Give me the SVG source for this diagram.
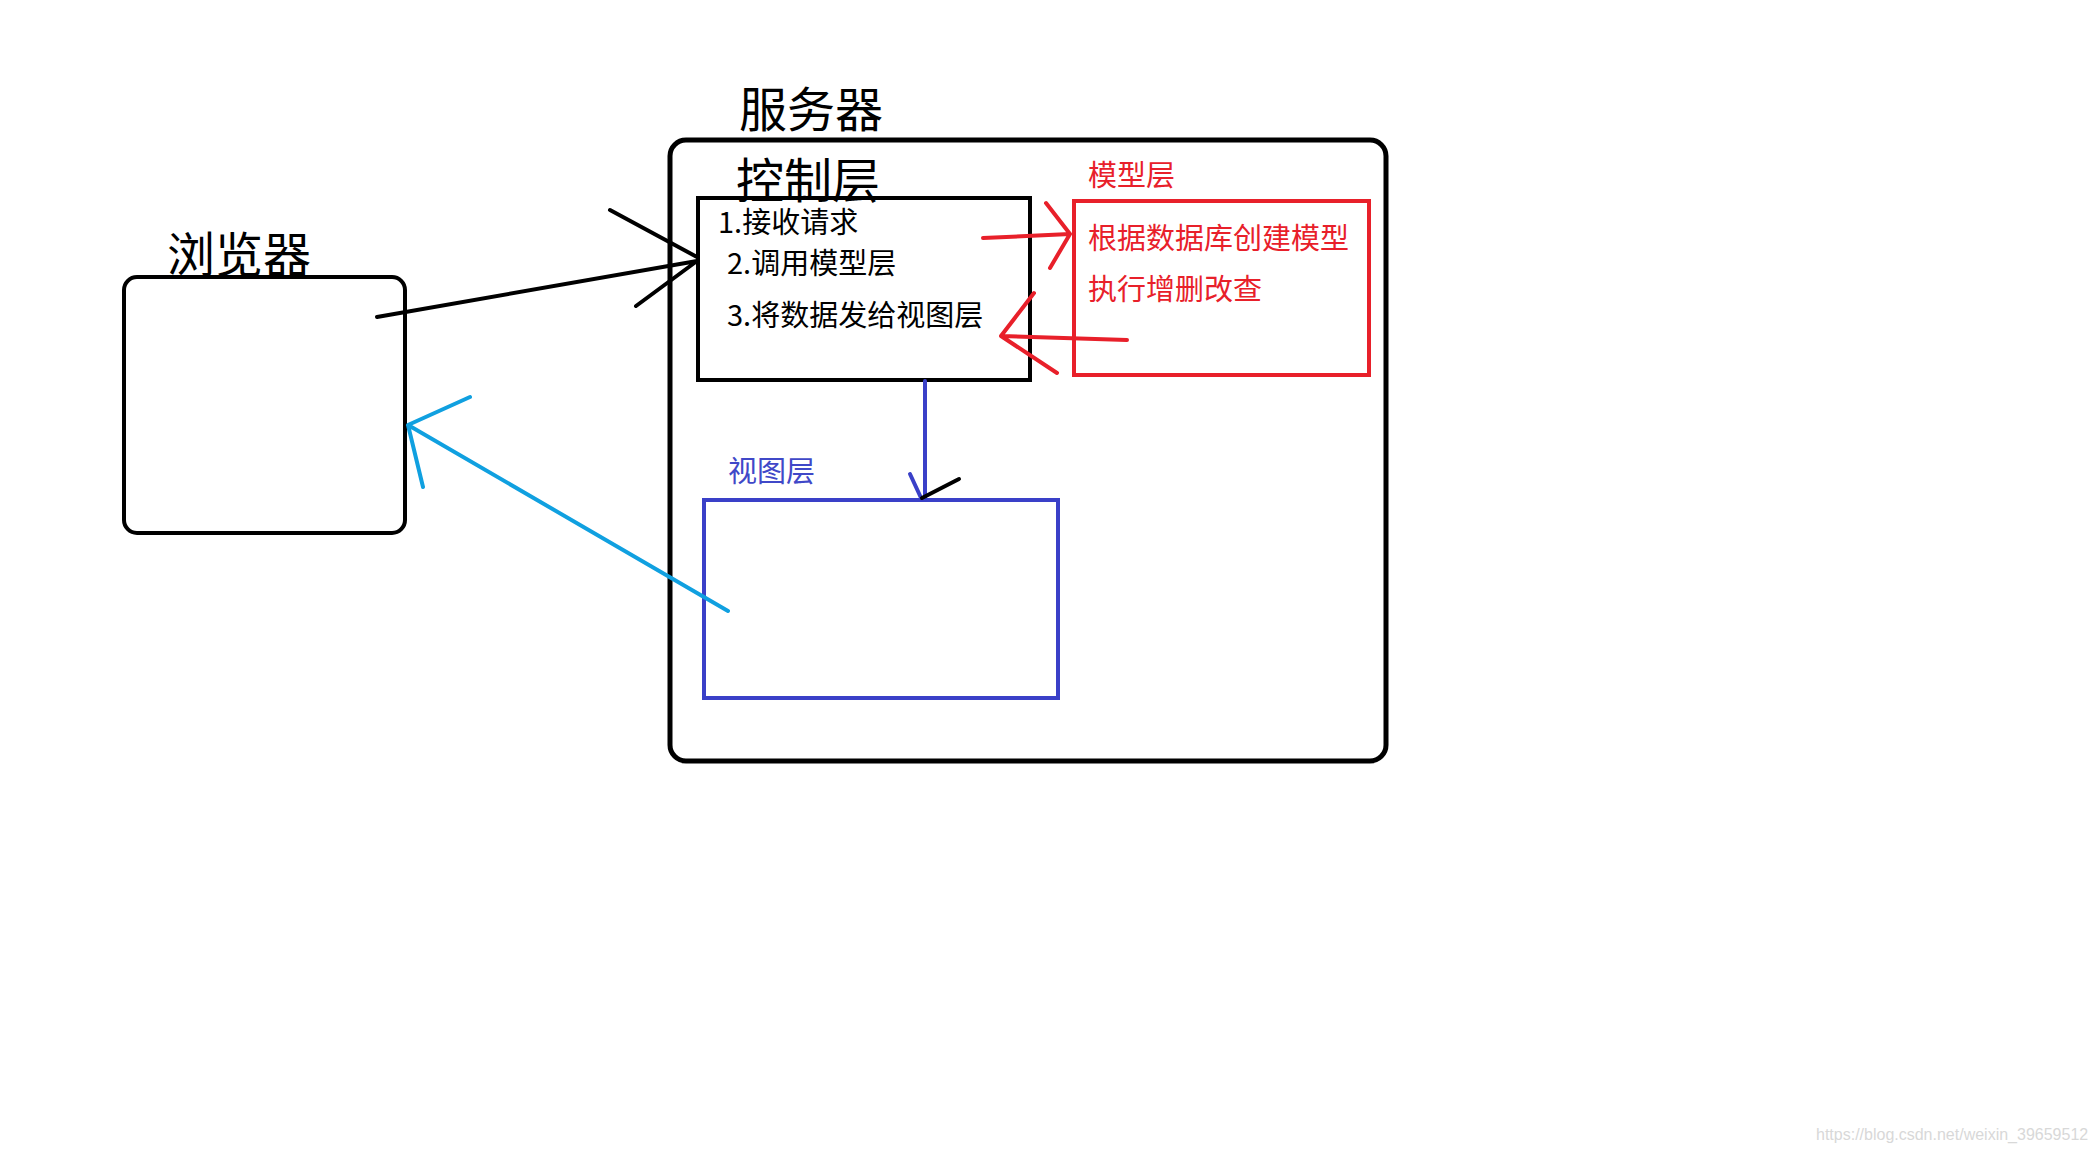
<svg xmlns="http://www.w3.org/2000/svg" width="2091" height="1150" viewBox="0 0 2091 1150">
<style>
text{font-family:"Microsoft YaHei","Noto Sans CJK SC",sans-serif}
.big{font-size:48px;fill:#000}
.mid{font-size:29px}
.ln{fill:none;stroke-width:4;stroke-linecap:round;stroke-linejoin:round}
</style>
<rect width="2091" height="1150" fill="#fff"/>
<g id="server"><rect x="670" y="140" width="716" height="621" rx="16" fill="none" stroke="#000" stroke-width="5"/><text x="739" y="127" class="big">服务器</text></g>
<g id="controller"><text x="736" y="198" class="big">控制层</text><rect x="698" y="198" width="332" height="182" fill="none" stroke="#000" stroke-width="4"/>
<text x="718" y="233" class="mid">1.接收请求</text><text x="727" y="274" class="mid">2.调用模型层</text><text x="727" y="326" class="mid">3.将数据发给视图层</text></g>
<g id="model"><text x="1088" y="186" class="mid" fill="#e8202a">模型层</text><rect x="1074" y="201" width="295" height="174" fill="none" stroke="#e8202a" stroke-width="4"/>
<text x="1088" y="249" class="mid" fill="#e8202a" font-size="30">根据数据库创建模型</text><text x="1088" y="300" class="mid" fill="#e8202a" font-size="30">执行增删改查</text></g>
<g id="browser"><text x="167" y="272" class="big">浏览器</text><rect x="124" y="277" width="281" height="256" rx="13" fill="none" stroke="#000" stroke-width="4"/></g>
<g id="view"><text x="728" y="482" class="mid" fill="#4048c8">视图层</text><rect x="704" y="500" width="354" height="198" fill="none" stroke="#3a40c8" stroke-width="4"/></g>
<g id="connectors">
<path class="ln" stroke="#000" d="M377 317L697 261M610 210L697 257M636 306L697 261"/>
<path class="ln" stroke="#e8202a" d="M983 238L1070 234M1046 203L1070 234L1050 268"/>
<path class="ln" stroke="#e8202a" d="M1127 340L1001 336M1034 293L1001 336L1057 373"/>
<path class="ln" stroke="#3a40c8" d="M925 381L925 500M910 474L922 500"/>
<path class="ln" stroke="#000" d="M959 479L922 498"/>
<path class="ln" stroke="#10a0e0" d="M728 611L408 425M470 397L408 425L423 487"/>
</g>
<text x="1816" y="1140" font-size="16" fill="#d8d8d8" style="font-family:'Liberation Sans',sans-serif">https://blog.csdn.net/weixin_39659512</text>
</svg>
